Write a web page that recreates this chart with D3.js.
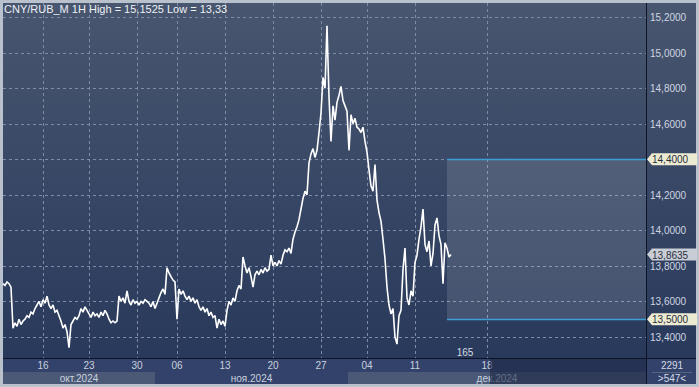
<!DOCTYPE html>
<html>
<head>
<meta charset="utf-8">
<script src="https://cdn.jsdelivr.net/npm/d3@7"></script>
<style>
body { margin: 0; background: #b9c1cd; }
svg { display: block; font-family: "Liberation Sans", Arial, sans-serif; }
</style>
</head>
<body>
<svg id="chart" width="699" height="387"></svg>
<script>
// hourly closes
const closes = [
    13.70, 13.69, 13.71, 13.70, 13.68, 13.45, 13.48, 13.46, 13.50, 13.47,
    13.49, 13.50, 13.52, 13.51, 13.54, 13.53, 13.56, 13.58, 13.60, 13.57,
    13.61, 13.59, 13.63, 13.58, 13.56, 13.58, 13.54, 13.55, 13.52, 13.49,
    13.45, 13.47, 13.43, 13.34, 13.47, 13.49, 13.51, 13.50, 13.52, 13.56,
    13.54, 13.57, 13.55, 13.53, 13.51, 13.54, 13.52, 13.53, 13.51, 13.54,
    13.52, 13.55, 13.53, 13.50, 13.48, 13.49, 13.48, 13.49, 13.63, 13.60,
    13.62, 13.59, 13.66, 13.60, 13.58, 13.61, 13.59, 13.60, 13.58, 13.60,
    13.59, 13.61, 13.60, 13.59, 13.57, 13.60, 13.56, 13.59, 13.62, 13.65,
    13.67, 13.64, 13.79, 13.76, 13.74, 13.72, 13.71, 13.50, 13.67, 13.64,
    13.66, 13.63, 13.61, 13.63, 13.60, 13.62, 13.59, 13.61, 13.57, 13.55,
    13.57, 13.54, 13.56, 13.52, 13.54, 13.51, 13.52, 13.45, 13.50, 13.47,
    13.49, 13.46, 13.55, 13.60, 13.58, 13.62, 13.60, 13.66, 13.69, 13.67,
    13.85, 13.80, 13.76, 13.79, 13.74, 13.68, 13.75, 13.77, 13.75, 13.78,
    13.76, 13.79, 13.77, 13.78, 13.86, 13.80, 13.82, 13.80, 13.83, 13.81,
    13.86, 13.89, 13.88, 13.90, 13.87, 13.95, 13.99, 14.02, 14.06, 14.12,
    14.18, 14.22, 14.20, 14.38, 14.43, 14.46, 14.41, 14.45, 14.55, 14.66,
    14.86, 14.80, 15.15, 14.75, 14.50, 14.70, 14.62, 14.72, 14.76, 14.81,
    14.73, 14.70, 14.67, 14.45, 14.65, 14.60, 14.63, 14.58, 14.57, 14.55,
    14.58, 14.50, 14.44, 14.34, 14.25, 14.22, 14.37, 14.17, 14.10, 14.05,
    13.95, 13.84, 13.68, 13.58, 13.53, 13.56, 13.40, 13.36, 13.52, 13.55,
    13.78, 13.90, 13.62, 13.58, 13.66, 13.63, 13.82, 13.86, 13.95, 14.02,
    14.12, 13.92, 13.88, 13.94, 13.80, 13.87, 14.03, 14.07, 13.97, 13.92,
    13.70, 13.93, 13.90, 13.85, 13.8635
];
const priceTicks = [15.2, 15.0, 14.8, 14.6, 14.4, 14.2, 14.0, 13.8, 13.6, 13.4];
const dayLabels = ['16', '23', '30', '06', '13', '20', '27', '04', '11', '18'];
const dayBars = [20, 43, 67, 87, 111, 135, 159, 182, 206, 242];
const monthLabels = ['окт.2024', 'ноя.2024', 'дек.2024'];
const monthStarts = [0, 76, 172.5];
const lastBar = 321.5;        // right edge of the visible window
const futureStart = 243.5;    // from here the time row is shaded
const zoneStart = 222;
const zoneHigh = 14.4;
const zoneLow = 13.5;
const lastPrice = 13.8635;
const titleText = 'CNY/RUB_M 1H High = 15,1525 Low = 13,33';
const zoneCount = '165';
const totalBars = '2291';
const shownBars = '>547<';

const W = 699, H = 387;
const plot = {left: 3, right: 646, top: 3, bottom: 358};
const axisRight = 696;

const svg = d3.select('#chart');
const defs = svg.append('defs');
const grad = defs.append('linearGradient')
    .attr('id', 'bg').attr('x1', 0).attr('y1', 0).attr('x2', 0).attr('y2', 1);
grad.append('stop').attr('offset', '0%').attr('stop-color', '#48566f');
grad.append('stop').attr('offset', '100%').attr('stop-color', '#29395b');

const x = d3.scaleLinear().domain([0, lastBar]).range([plot.left, plot.right]);
const y = d3.scaleLinear().domain([13.4, 15.2]).range([337, 17]);
const fmt = v => d3.format('.4f')(v).replace('.', ',');

// frame
svg.append('rect').attr('width', W).attr('height', H).attr('fill', '#b9c1cd');
svg.append('rect')
    .attr('x', plot.left).attr('y', plot.top)
    .attr('width', axisRight - plot.left).attr('height', plot.bottom - plot.top)
    .attr('fill', 'url(#bg)');

// bottom time rows
svg.append('rect')
    .attr('x', plot.left).attr('y', plot.bottom)
    .attr('width', axisRight - plot.left).attr('height', 26)
    .attr('fill', '#33426a');
svg.append('g').selectAll('rect')
    .data(monthLabels)
    .enter()
    .append('rect')
    .attr('x', (d, i) => x(monthStarts[i]))
    .attr('y', 372)
    .attr('width', (d, i) => x(i + 1 < monthStarts.length ? monthStarts[i + 1] : lastBar) - x(monthStarts[i]))
    .attr('height', 12)
    .attr('fill', (d, i) => i % 2 === 0 ? '#4b5977' : '#33426a');

// grid
const grid = svg.append('g')
    .attr('stroke', '#7f8ca6')
    .attr('stroke-width', 1)
    .attr('stroke-dasharray', '3,3');
grid.selectAll('line.h')
    .data(priceTicks)
    .enter()
    .append('line')
    .attr('class', 'h')
    .attr('x1', plot.left).attr('x2', plot.right)
    .attr('y1', d => Math.round(y(d)) + 0.5)
    .attr('y2', d => Math.round(y(d)) + 0.5);
grid.selectAll('line.v')
    .data(dayBars)
    .enter()
    .append('line')
    .attr('class', 'v')
    .attr('x1', d => Math.round(x(d)) + 0.5)
    .attr('x2', d => Math.round(x(d)) + 0.5)
    .attr('y1', plot.top).attr('y2', plot.bottom);

// target zone
svg.append('rect')
    .attr('x', x(zoneStart)).attr('y', y(zoneHigh))
    .attr('width', plot.right - x(zoneStart))
    .attr('height', y(zoneLow) - y(zoneHigh))
    .attr('fill', '#ffffff').attr('fill-opacity', 0.12);
svg.append('g').selectAll('line')
    .data([zoneHigh, zoneLow])
    .enter()
    .append('line')
    .attr('x1', x(zoneStart)).attr('x2', plot.right)
    .attr('y1', d => Math.round(y(d)) + 0.5)
    .attr('y2', d => Math.round(y(d)) + 0.5)
    .attr('stroke', '#3d9fd6').attr('stroke-width', 1.5);

// price line
const line = d3.line()
    .x((d, i) => x(i))
    .y(d => y(d));
svg.append('path')
    .datum(closes)
    .attr('d', line)
    .attr('fill', 'none')
    .attr('stroke', '#ffffff')
    .attr('stroke-width', 1.6)
    .attr('stroke-linejoin', 'miter')
    .attr('stroke-miterlimit', 2);

// separators
svg.append('line')
    .attr('x1', plot.right + 0.5).attr('x2', plot.right + 0.5)
    .attr('y1', plot.top).attr('y2', H - 3)
    .attr('stroke', '#0e1424');
svg.append('line')
    .attr('x1', plot.left).attr('x2', axisRight)
    .attr('y1', plot.bottom + 0.5).attr('y2', plot.bottom + 0.5)
    .attr('stroke', '#0e1424');

// right axis labels
svg.append('g').selectAll('text')
    .data(priceTicks.filter(d => d !== zoneHigh))
    .enter()
    .append('text')
    .attr('x', 650)
    .attr('y', d => y(d) + 4)
    .attr('fill', '#cfd6e2')
    .attr('font-size', 10)
    .text(fmt);

// value tags
const tags = [
    {v: zoneHigh, fill: '#ecebd2'},
    {v: lastPrice, fill: '#c9cdd6'},
    {v: zoneLow, fill: '#ecebd2'}
];
const tagG = svg.append('g').selectAll('g')
    .data(tags)
    .enter()
    .append('g')
    .attr('transform', d => `translate(0, ${y(d.v)})`);
tagG.append('path')
    .attr('d', 'M647,0 L652,-6 L697,-6 L697,6 L652,6 Z')
    .attr('fill', d => d.fill);
tagG.append('text')
    .attr('x', 652)
    .attr('y', 4)
    .attr('fill', '#2a2f3c')
    .attr('font-size', 10)
    .text(d => fmt(d.v));

// time labels
svg.append('g').selectAll('text')
    .data(dayLabels)
    .enter()
    .append('text')
    .attr('x', (d, i) => x(dayBars[i]))
    .attr('y', 369)
    .attr('text-anchor', 'middle')
    .attr('fill', '#c9d1de')
    .attr('font-size', 10)
    .text(d => d);
svg.append('g').selectAll('text')
    .data(monthLabels)
    .enter()
    .append('text')
    .attr('x', (d, i) => (x(monthStarts[i]) + x(i + 1 < monthStarts.length ? monthStarts[i + 1] : lastBar)) / 2)
    .attr('y', 381.5)
    .attr('text-anchor', 'middle')
    .attr('fill', '#c9d1de')
    .attr('font-size', 10)
    .text(d => d);
// shaded future part of the time rows
svg.append('rect')
    .attr('x', x(futureStart)).attr('y', plot.bottom + 1)
    .attr('width', plot.right - x(futureStart)).attr('height', 25)
    .attr('fill', '#1c2846').attr('fill-opacity', 0.6);

// counters
svg.append('text')
    .attr('x', x(zoneStart) + 18).attr('y', 356)
    .attr('text-anchor', 'middle')
    .attr('fill', '#d4dae4').attr('font-size', 10)
    .text(zoneCount);
svg.append('text')
    .attr('x', 672).attr('y', 369)
    .attr('text-anchor', 'middle')
    .attr('fill', '#d4dae4').attr('font-size', 10)
    .text(totalBars);
svg.append('line')
    .attr('x1', 652).attr('x2', 692).attr('y1', 372.5).attr('y2', 372.5)
    .attr('stroke', '#56647f');
svg.append('text')
    .attr('x', 672).attr('y', 382)
    .attr('text-anchor', 'middle')
    .attr('fill', '#d4dae4').attr('font-size', 10)
    .text(shownBars);

// title
svg.append('text')
    .attr('x', 4).attr('y', 13)
    .attr('fill', '#eef1f5')
    .attr('font-size', 11)
    .text(titleText);
</script>
</body>
</html>
